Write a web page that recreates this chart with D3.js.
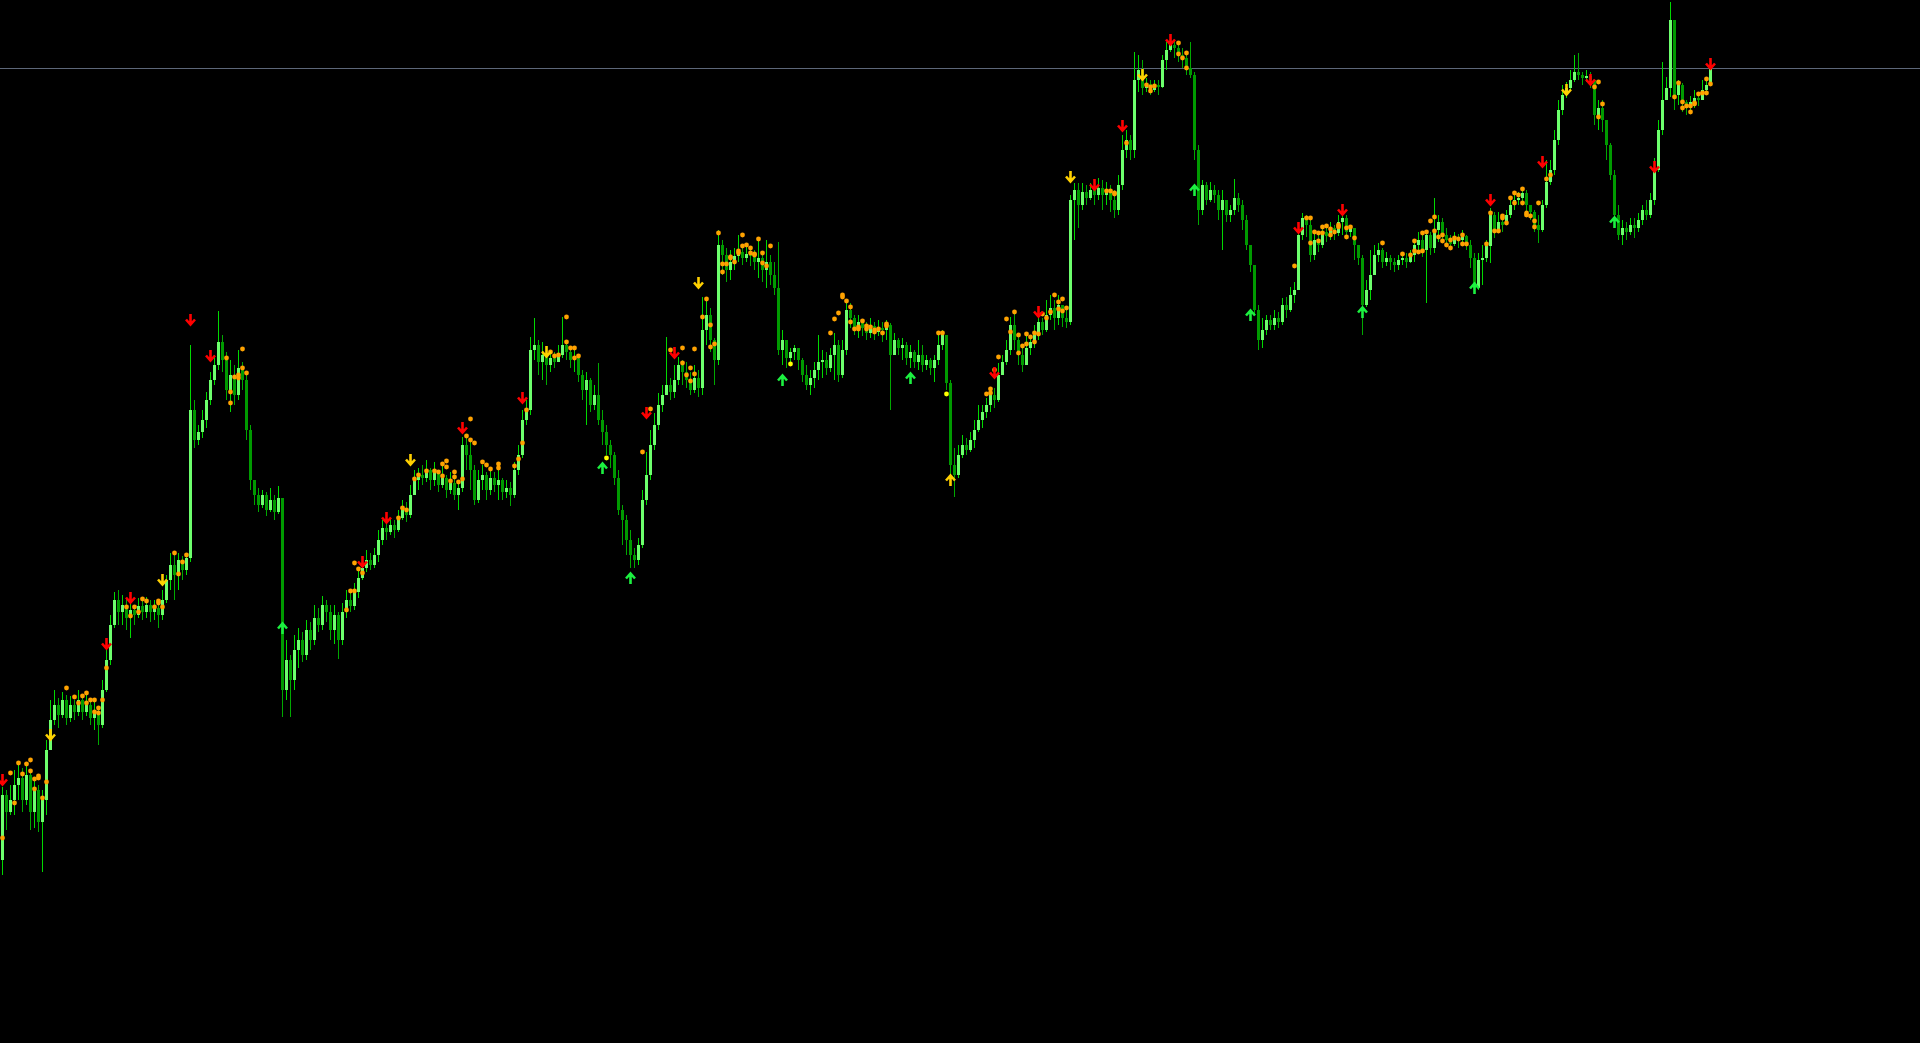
<!DOCTYPE html>
<html>
<head>
<meta charset="utf-8">
<script src="https://cdn.jsdelivr.net/npm/d3@7"></script>
<style>
html, body { margin: 0; padding: 0; background: #000; overflow: hidden; }
svg { display: block; background: #000; }
</style>
</head>
<body>
<svg id="chart" width="1920" height="1043"></svg>
<script>
// price series, one candle per entry (open = previous close)
const firstOpen = 240;

const closes = [
  305,288,300,315,322,300,325,288,310,278,
  300,350,380,395,385,400,382,395,388,400,
  388,395,382,388,375,410,440,475,500,488,
  495,482,490,485,494,488,495,488,492,485,
  500,520,535,525,540,530,542,690,660,668,
  680,700,720,735,758,740,710,725,705,732,
  720,670,620,605,595,605,590,600,588,602,
  410,440,420,450,460,445,470,460,482,475,
  495,488,470,485,460,488,500,494,508,522,
  532,540,535,545,560,572,568,575,570,582,
  592,585,605,620,625,622,630,620,628,615,
  622,610,617,605,612,655,645,630,600,620,
  625,610,622,615,620,608,612,605,630,645,
  680,690,750,755,738,745,735,742,738,745,
  755,748,740,742,725,710,720,695,705,680,
  668,655,645,622,590,580,560,545,540,555,
  600,625,655,675,695,705,715,708,720,735,
  728,720,710,722,712,770,785,760,740,855,
  845,830,838,844,848,842,846,844,838,842,
  830,838,825,812,750,760,742,748,752,740,
  725,715,722,730,738,740,732,745,755,725,
  750,790,782,770,778,772,767,774,768,772,
  770,775,745,760,752,755,742,748,738,745,
  735,740,732,740,755,765,717,635,625,645,
  655,650,660,670,680,688,695,705,700,725,
  738,750,775,760,745,735,752,758,765,778,
  770,785,792,782,795,782,778,900,910,895,
  908,902,910,905,912,905,910,900,890,915,
  950,960,950,1020,1030,1012,1016,1010,1015,1013,
  1040,1050,1055,1052,1045,1042,1032,1025,950,890,
  915,900,910,905,890,900,885,890,902,895,
  880,855,835,790,760,770,780,775,782,778,
  795,790,805,810,865,882,875,845,860,855,
  868,864,872,867,878,882,868,872,855,842,
  795,810,825,845,850,838,842,838,835,840,
  842,838,845,855,860,850,865,852,870,878,
  865,860,856,862,860,864,855,842,812,840,
  842,854,885,870,878,875,885,895,900,902,
  907,895,888,875,870,895,918,930,960,990,
  1005,1012,1020,1028,1025,1022,1024,1020,985,992,
  980,955,925,885,865,872,868,875,872,880,
  890,885,900,930,970,1000,1012,1080,1005,1015,
  998,992,998,1002,1000,1010,1015,1032
];

const highs = [
  313,310,315,330,335,332,338,330,322,315,
  310,360,400,410,402,408,405,404,400,410,
  404,405,400,398,392,420,450,485,508,510,
  505,502,500,495,502,500,503,500,500,497,
  510,525,547,545,547,544,547,755,700,675,
  690,708,728,745,789,765,748,740,735,750,
  738,725,675,620,612,610,608,612,605,614,
  600,460,445,465,472,468,480,478,495,492,
  504,500,495,495,488,497,510,509,517,530,
  540,550,547,552,570,580,578,582,580,590,
  600,598,615,630,632,635,640,632,638,630,
  635,625,628,622,620,663,665,660,635,630,
  635,628,632,628,630,622,620,618,638,655,
  690,700,763,782,760,758,748,750,748,755,
  783,758,750,750,745,730,728,722,715,737,
  690,675,660,648,630,595,585,570,552,562,
  610,648,670,687,707,715,763,722,735,743,
  740,738,728,735,730,803,800,792,762,870,
  860,852,850,852,865,855,854,852,850,862,
  845,860,845,838,858,770,755,752,755,750,
  742,735,730,738,765,750,748,752,767,760,
  760,800,797,785,785,780,778,782,778,780,
  778,780,777,767,762,762,758,755,750,760,
  755,745,742,745,767,770,765,720,652,655,
  665,662,668,680,695,695,702,712,712,737,
  745,760,783,788,765,755,765,765,775,785,
  782,800,805,800,805,795,790,905,917,917,
  917,915,917,915,922,920,918,915,910,925,
  965,970,965,1048,1045,1040,1022,1020,1020,1020,
  1045,1058,1062,1060,1057,1052,1045,1058,1028,955,
  920,918,918,915,910,910,895,895,921,907,
  900,885,855,835,795,782,785,785,790,788,
  802,803,813,818,868,887,885,880,870,867,
  875,872,878,875,885,890,885,875,870,855,
  845,820,850,855,857,852,848,845,842,845,
  848,847,850,860,868,865,870,868,902,885,
  882,872,865,868,866,870,865,860,847,847,
  855,860,892,888,888,885,890,902,905,908,
  912,910,895,890,885,900,940,940,970,1000,
  1015,1018,1030,1045,1047,1028,1030,1028,1020,1000,
  1000,980,957,930,895,880,878,882,882,887,
  895,900,907,942,980,1038,1023,1098,1080,1020,
  1017,1000,1004,1010,1008,1020,1022,1040
];

const lows = [
  225,270,285,285,300,288,295,270,272,268,
  228,285,352,375,372,382,375,378,380,384,
  380,384,375,370,355,372,408,435,472,475,
  475,470,462,475,482,480,482,478,480,472,
  480,497,510,500,510,520,525,538,652,655,
  662,672,695,715,730,728,700,688,695,700,
  710,660,610,595,588,592,584,588,580,586,
  383,400,383,410,432,438,440,450,455,468,
  470,478,460,456,441,455,482,488,490,502,
  520,528,530,532,538,555,560,565,562,568,
  580,578,582,605,610,615,618,610,614,608,
  612,602,606,600,590,608,630,610,595,597,
  610,600,605,608,600,600,602,594,602,625,
  642,675,685,740,725,720,715,728,732,738,
  742,740,732,728,718,700,675,688,690,675,
  655,645,632,615,585,555,545,532,532,535,
  552,595,620,650,670,688,705,700,702,715,
  715,712,705,707,703,705,755,748,715,735,
  825,818,820,830,838,835,838,834,830,822,
  818,812,815,805,745,735,732,738,740,730,
  718,710,705,712,720,722,725,728,720,718,
  722,745,772,765,762,764,760,762,760,764,
  758,760,690,745,745,740,735,732,732,730,
  728,730,725,718,735,750,710,620,603,622,
  642,645,648,652,668,672,682,688,692,698,
  730,735,745,750,735,728,735,745,752,760,
  765,768,780,770,775,773,772,775,860,872,
  890,895,900,895,900,890,895,888,882,885,
  910,942,940,942,1008,1005,1008,1005,1008,1005,
  1012,1030,1048,1042,1038,1032,1025,1022,940,875,
  885,895,898,897,880,850,878,878,885,888,
  870,850,828,785,750,752,765,770,770,772,
  775,782,788,797,810,860,863,838,840,848,
  852,858,860,860,864,865,862,863,840,835,
  765,793,800,830,838,832,834,830,828,830,
  835,832,837,838,850,843,797,845,847,858,
  860,855,850,854,852,856,850,832,810,810,
  815,838,837,862,868,868,878,882,890,895,
  895,888,880,868,857,868,892,915,925,955,
  985,1002,1010,1018,1020,1015,1018,1012,975,970,
  968,940,920,875,860,855,860,865,862,868,
  875,880,882,895,928,965,1000,1003,990,995,
  988,985,988,992,994,1004,1006,1015
];

// orange indicator dots: [candle index, price]
const dots = [
  [0,262],[2,327],[3,297],[4,337],[5,326],[6,336],[7,340],[7,329],[8,321],[8,311],[9,322],[9,324],[10,302],[11,318],
  [16,412],[18,403],[19,397],[20,404],[21,407],[21,397],[22,400],[23,400],[23,388],[24,387],[24,392],[25,400],[26,432],
  [31,493],[32,484],[33,493],[34,488],[35,501],[36,499],[38,493],[39,499],[39,497],[40,493],
  [43,547],[45,538],[44,526],[46,545],
  [56,742],[60,751],[60,732],[61,727],[58,723],[59,722],[59,725],[57,708],[57,697],
  [86,490],[87,509],[88,509],[88,537],[89,531],[90,527],[99,582],[100,592],[101,590],[103,621],[104,625],[106,629],
  [108,629],[109,628],[110,624],[110,636],[111,639],[111,633],[112,619],[113,628],[113,623],[114,618],[115,621],
  [116,664],[117,681],[117,660],[118,657],[120,638],[121,635],[122,631],[124,636],[124,632],[128,634],[129,641],[130,657],[131,690],
  [137,748],[138,744],[139,745],[141,758],[141,783],[142,752],[143,752],[143,742],[144,744],
  [160,648],[162,691],[167,750],[170,752],[170,737],[171,725],[172,719],[172,732],[173,726],[173,751],[175,783],[176,801],[177,775],[177,753],[178,756],
  [179,867],[180,836],[180,828],[181,836],[182,842],[182,843],[183,838],[184,847],[184,849],[185,865],[185,854],[186,855],[187,852],[187,847],[188,845],[188,846],[189,861],[190,837],[190,847],[191,834],[192,854],
  [207,767],[208,781],[209,787],[210,805],[210,803],[211,799],[212,793],[212,778],[213,771],[214,771],[214,773],
  [215,779],[216,771],[216,774],[217,773],[218,768],[218,770],[219,771],[220,767],[221,776],[221,774],[234,767],[235,767],
  [246,706],[247,711],[247,707],[248,730],[249,743],[254,747],[254,765],[255,754],[256,756],[256,766],[257,763],[258,758],[258,767],[259,766],
  [252,768],[251,781],[253,788],[260,786],[261,782],[262,788],[263,805],[264,798],[264,791],[265,789],[265,801],[266,792],
  [276,909],[277,909],[278,906],[278,907],
  [281,957],[286,1015],[287,1013],[287,1009],[288,1014],[294,1057],[294,1046],[295,1042],[296,1047],[296,1032],
  [323,834],[326,882],[327,882],[327,857],[328,868],[329,859],[329,867],[330,867],[330,873],[331,874],[332,871],[332,865],[333,868],[334,873],[334,875],[336,863],[336,872],[337,873],[338,862],
  [345,857],[350,846],[352,845],[353,849],[353,859],[354,848],[355,867],[355,849],[356,868],[357,879],[358,869],[358,883],[359,863],[360,859],[360,865],[361,855],[362,852],[362,860],[363,862],[364,861],[365,865],[365,856],[366,856],
  [371,856],[372,887],[373,869],[374,869],[375,882],[375,884],[376,877],[377,902],[378,897],[378,907],[379,905],[380,911],[380,897],[381,885],[381,887],[382,884],[383,879],[383,873],[384,897],[386,921],[387,925],
  [399,1018],[398,1013],[400,996],[399,983],[419,1017],[418,1003],[420,998],[420,992],[421,994],[422,988],[422,994],[423,997],[423,996],[424,1006],[425,1007],[426,1021],[426,1007],[427,1016]
];
const yellowDots = [[151,642],[197,736],[236,706]];

// signal arrows: [candle index, price]
const sellArrows = [
  [0,320],[26,456],[32,502],[47,780],[52,744],[90,538],[96,582],[115,672],[130,702],[161,687],[168,747],
  [248,727],[259,788],[273,915],[280,974],[292,1060],[324,872],[335,890],[372,900],[385,938],[397,1020],[413,933],[427,1036]
];
const warnArrows = [[12,365],[40,520],[102,640],[136,748],[174,817],[267,923],[285,1025],[391,1010]];
const warnUpArrows = [[237,620]];
const buyArrows = [[70,472],[150,632],[157,522],[195,720],[227,722],[298,910],[312,785],[340,788],[368,812],[403,878]];

const bidPrice = 1032;

const svg = d3.select('#chart');
const width = +svg.attr('width');
const height = +svg.attr('height');

const step = 4;
const xScale = d3.scaleLinear()
    .domain([0, closes.length - 1])
    .range([2, 2 + step * (closes.length - 1)]);
const yScale = d3.scaleLinear()
    .domain([57, 1100])
    .range([height, 0]);

let candles = closes.map((c, i) => {
    let o = i === 0 ? firstOpen : closes[i - 1];
    return { i: i, open: o, close: c, high: Math.max(highs[i], o, c), low: Math.min(lows[i], o, c) };
});

// bid line
svg.append('line')
    .attr('x1', 0).attr('x2', width)
    .attr('y1', Math.round(yScale(bidPrice)) + 0.5)
    .attr('y2', Math.round(yScale(bidPrice)) + 0.5)
    .attr('stroke', '#5d6779')
    .attr('stroke-width', 1);

let bars = svg.append('g').attr('shape-rendering', 'crispEdges');

bars.selectAll('line').data(candles).enter()
    .append('line')
    .attr('x1', d => Math.round(xScale(d.i)) + 0.5)
    .attr('x2', d => Math.round(xScale(d.i)) + 0.5)
    .attr('y1', d => yScale(d.high))
    .attr('y2', d => yScale(d.low))
    .attr('stroke', d => d.close >= d.open ? '#00d800' : '#00a800')
    .attr('stroke-width', 1);

bars.selectAll('rect').data(candles).enter()
    .append('rect')
    .attr('x', d => Math.round(xScale(d.i)) - 1)
    .attr('width', 3)
    .attr('y', d => yScale(Math.max(d.open, d.close)))
    .attr('height', d => Math.max(1, Math.abs(yScale(d.open) - yScale(d.close))))
    .attr('fill', d => d.close >= d.open ? '#6dff6d' : '#009a00');

// dots
svg.append('g').selectAll('circle').data(dots).enter()
    .append('circle')
    .attr('cx', d => xScale(d[0]) + 0.5)
    .attr('cy', d => yScale(d[1]))
    .attr('r', 2.4)
    .attr('fill', '#ffa200');

svg.append('g').selectAll('circle').data(yellowDots).enter()
    .append('circle')
    .attr('cx', d => xScale(d[0]) + 0.5)
    .attr('cy', d => yScale(d[1]))
    .attr('r', 2.4)
    .attr('fill', '#ffff00');

const downArrow = 'M0,-6V4M-4.5,-0.5L0,4.5L4.5,-0.5';
const upArrow = 'M0,6V-4M-4.5,0.5L0,-4.5L4.5,0.5';

let drawArrows = (list, shape, colour) => {
    svg.append('g').selectAll('path').data(list).enter()
        .append('path')
        .attr('transform', d => 'translate(' + (xScale(d[0]) + 0.5) + ',' + yScale(d[1]) + ')')
        .attr('d', shape)
        .attr('fill', 'none')
        .attr('stroke', colour)
        .attr('stroke-width', 2.6)
        .attr('stroke-linejoin', 'miter');
};

drawArrows(sellArrows, downArrow, '#ff0000');
drawArrows(warnArrows, downArrow, '#ffd000');
drawArrows(warnUpArrows, upArrow, '#ffd000');
drawArrows(buyArrows, upArrow, '#1cf040');
</script>
</body>
</html>
